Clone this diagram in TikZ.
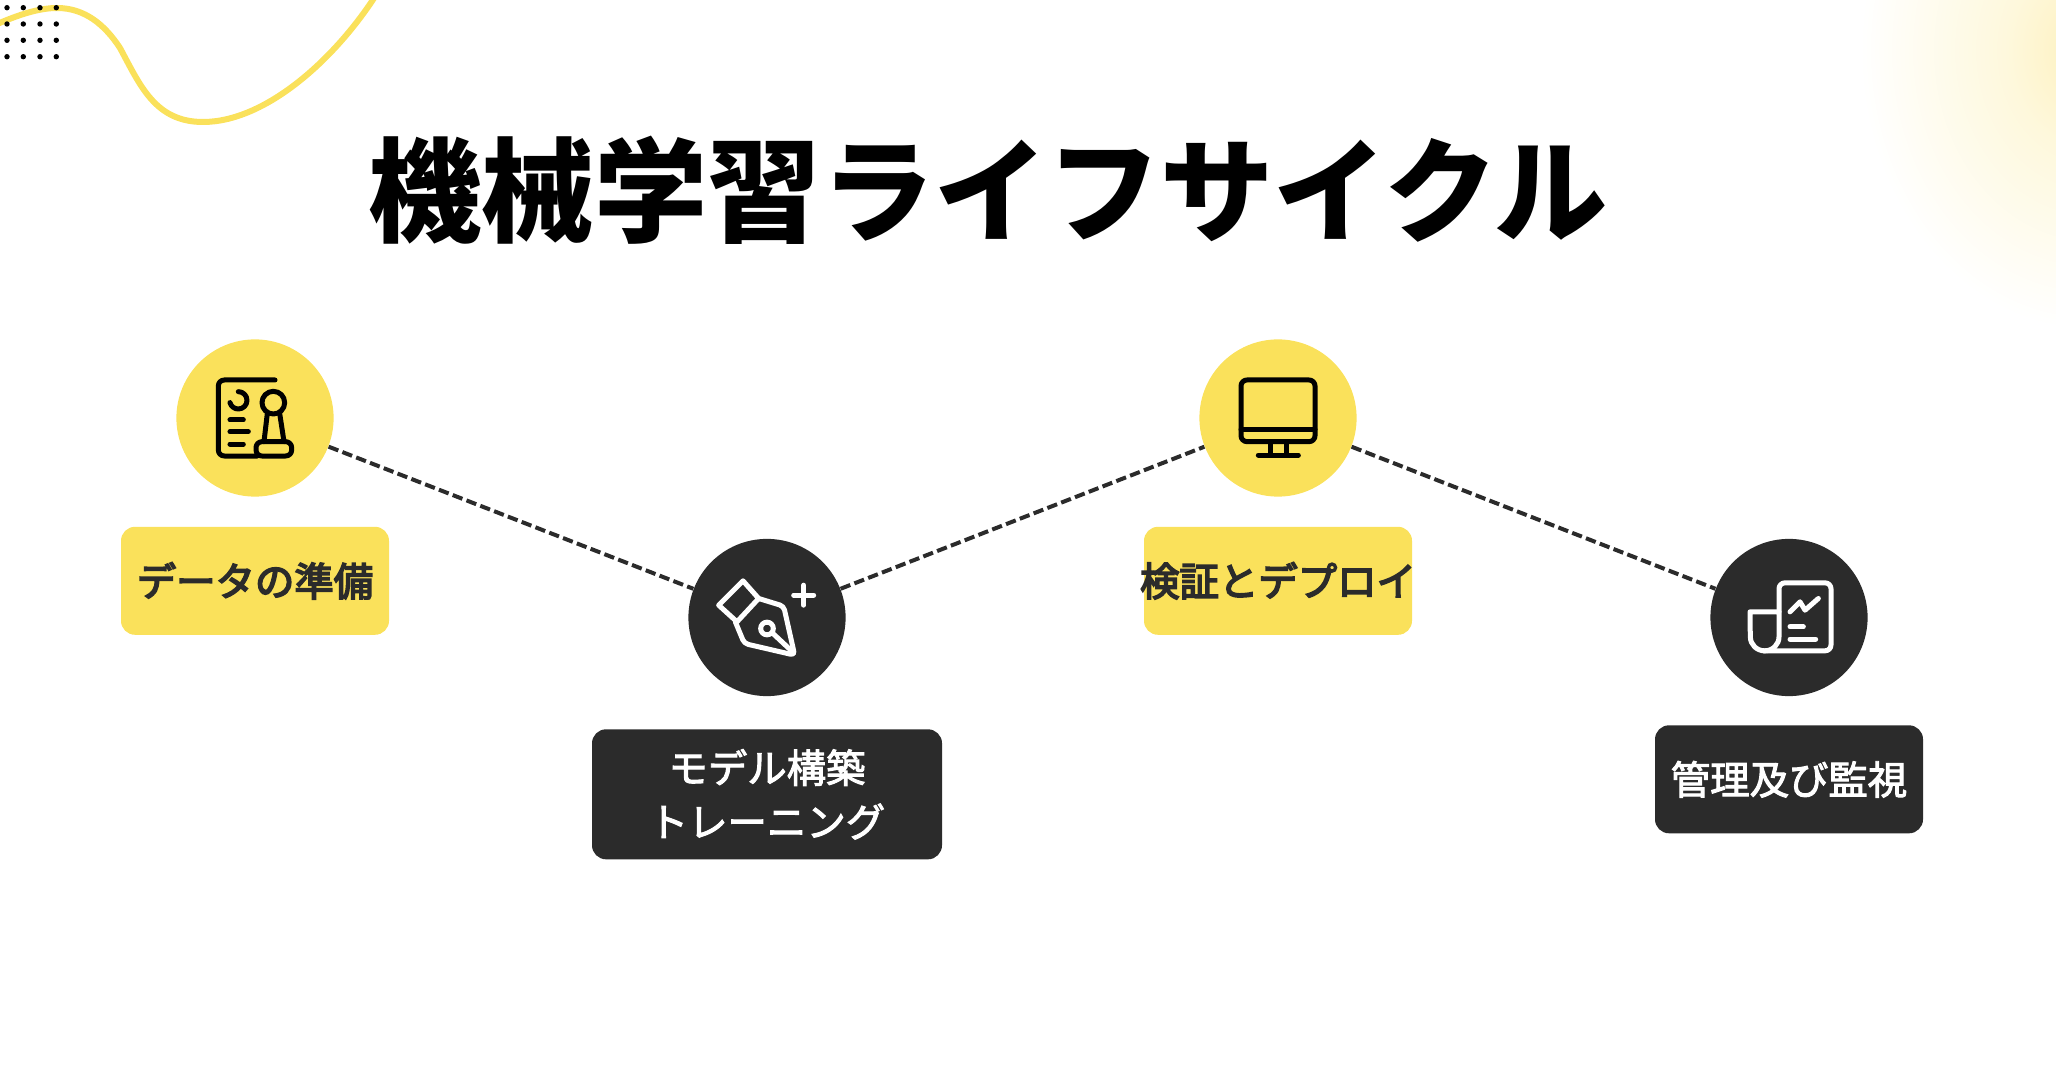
\documentclass[tikz,border=0pt]{standalone}
\usepackage{fontspec}
\usepackage{xcolor}
\usepackage{tikz}
\usetikzlibrary{positioning}
\newfontfamily\jptitle{Noto Sans CJK JP}
\newfontfamily\jpheavy[FakeBold=4.2]{Noto Sans CJK JP}
\newfontfamily\jpmedium[FakeBold=2.5]{Noto Sans CJK JP}
\definecolor{lifeyellow}{HTML}{FAE15B}
\definecolor{lifedark}{HTML}{2B2B2B}
\definecolor{lifeglow}{HTML}{FDF0BC}
\definecolor{lifeglowmid}{HTML}{FEF8DC}
\pgfdeclareradialshading{glowshade}{\pgfpointorigin}{color(0bp)=(lifeglow); color(9bp)=(lifeglowmid); color(25bp)=(white); color(50bp)=(white)}
\begin{document}
\begin{tikzpicture}[
			x=.5pt,y=-.5pt,
			node distance=15pt,
			disc/.style={
				circle,
				inner sep=0pt,
				minimum size=78.6pt,
			},
			yellowdisc/.style={disc, fill=lifeyellow},
			darkdisc/.style={disc, fill=lifedark},
			tag/.style={
				rounded corners=7pt,
				inner sep=0pt,
				minimum width=134pt,
				minimum height=54pt,
				align=center,
			},
			yellowtag/.style={tag, fill=lifeyellow, text=lifedark, font=\jpheavy\fontsize{19.7}{27}\selectfont},
			darktag/.style={tag, fill=lifedark, text=white, font=\jpmedium\fontsize{19.7}{27}\selectfont},
			dashline/.style={lifedark, line width=2pt, dash pattern=on 5.2pt off 2.2pt},
			iconline/.style={line width=2.5pt, line cap=round, line join=round},
			icon/.style={x=.1667pt,y=-.1667pt},
			]
			\useasboundingbox (0,0) rectangle (2056,1090);
			%% Corner decoration
			\begin{scope}
				\clip (0,0) rectangle (2056,1090);
				\shade[shading=glowshade] (1860,-230) rectangle (2320,330);
				\draw[lifeyellow, line width=3pt] (-5,25) .. controls (20,14) and (40,8) .. (57,8) .. controls (85,8) and (105,25) .. (120,48) .. controls (140,85) and (155,122) .. (203,122) .. controls (265,122) and (335,60) .. (378,-8);
			\end{scope}
			\foreach \px in {7,23.3,40,56.3}
				\foreach \py in {7.7,24,40.3,56.7}
					\fill (\px,\py) circle [radius=2.7];
			\node (title) at (988,190) {\jptitle\bfseries\fontsize{56.6}{60}\selectfont 機械学習ライフサイクル};
			%% Circles and their tags
			\node [yellowdisc] (prep) at (255,418) {};
			\node [darkdisc] (model) at (767,617.5) {};
			\node [yellowdisc] (deploy) at (1278,418) {};
			\node [darkdisc] (monitor) at (1789,617.5) {};
			\node [yellowtag, below=14.7pt of prep] (preptag) {データの準備};
			\node [darktag, minimum width=175pt, minimum height=65pt, below=16.2pt of model] (modeltag) {モデル構築\\トレーニング};
			\node [yellowtag, below=14.7pt of deploy] (deploytag) {\makebox[0pt]{検証とデプロイ}};
			\node [darktag, below=14.2pt of monitor] (monitortag) {管理及び監視};
			\draw[dashline] (prep) -- (model);
			\draw[dashline] (model) -- (deploy);
			\draw[dashline] (deploy) -- (monitor);
			%% Icons, in thirds of a pixel
			\begin{scope}[shift={(prep)}, icon, shift={(-255,-264)}, iconline, black]
				\draw[rounded corners=3pt] (315,150) -- (145,150) -- (145,378) -- (262,378);
				\draw (205,185) arc [start angle=-90, end angle=165, radius=26];
				\draw (180,270) -- (220,270);
				\draw (180,305) -- (235,305);
				\draw (180,342) -- (220,342);
				\draw (310,218) circle [radius=34];
				\draw (292,250) -- (282,335);
				\draw (329,250) -- (342,335);
				\draw[rounded corners=3pt] (258,335) rectangle (365,378);
			\end{scope}
			\begin{scope}[shift={(model)}, icon, shift={(-260,-262)}, iconline, white]
				\draw (188,152) -- (115,225) -- (170,275) -- (235,205) -- cycle;
				\draw[rounded corners=2pt] (235,205) -- (310,228) -- (343,375) -- (192,340) -- (165,275);
				\draw (340,368) -- (280,312);
				\draw (260,295) circle [radius=19];
				\draw (340,195) -- (400,195);
				\draw (370,165) -- (370,225);
			\end{scope}
			\begin{scope}[shift={(deploy)}, icon, shift={(-249,-264)}, iconline, black]
				\draw[rounded corners=3pt] (138,150) rectangle (360,335);
				\draw (138,298) -- (360,298);
				\draw (225,335) -- (225,375);
				\draw (275,335) -- (275,375);
				\draw (190,375) -- (310,375);
			\end{scope}
			\begin{scope}[shift={(monitor)}, icon, shift={(-252,-262)}, iconline, white]
				\draw[rounded corners=3pt] (175,362) -- (378,362) -- (378,158) -- (222,158) -- (222,245);
				\draw (222,245) -- (222,320) arc [start angle=0, end angle=180, x radius=43, y radius=42] -- (135,262) -- (135,245) -- cycle;
				\draw (255,245) -- (285,215) -- (300,240) -- (340,205);
				\draw (255,290) -- (295,290);
				\draw (255,327) -- (332,327);
			\end{scope}
		\end{tikzpicture}
\end{document}
